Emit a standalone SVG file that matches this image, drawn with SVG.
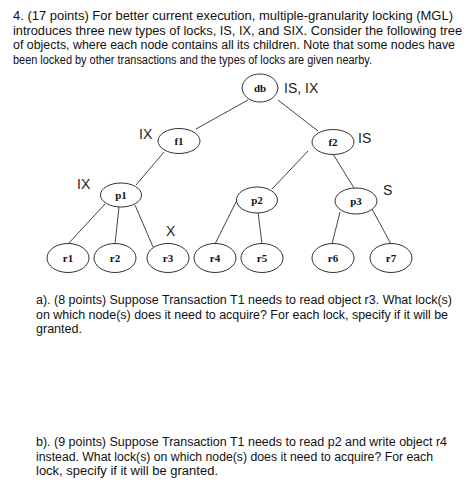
<svg xmlns="http://www.w3.org/2000/svg" width="474" height="501" viewBox="0 0 474 501">
<style>
.t{font-family:"Liberation Sans","DejaVu Sans",sans-serif;font-size:12.5px;fill:#111}
.lk{font-family:"Liberation Sans","DejaVu Sans",sans-serif;font-size:14px;fill:#222}
.n ellipse{fill:#fff;stroke:#333;stroke-width:1}
.n text{font-family:"Liberation Serif","DejaVu Serif",serif;font-weight:bold;font-size:11px;fill:#111;text-anchor:middle}
.e line{stroke:#444;stroke-width:1}
</style>
<rect width="474" height="501" fill="#fff"/>
<g id="intro">
<text class="t" x="13" y="20" textLength="440" lengthAdjust="spacingAndGlyphs">4. (17 points) For better current execution, multiple-granularity locking (MGL)</text>
<text class="t" x="13" y="34.5" textLength="449" lengthAdjust="spacingAndGlyphs">introduces three new types of locks, IS, IX, and SIX. Consider the following tree</text>
<text class="t" x="13" y="49" textLength="442" lengthAdjust="spacingAndGlyphs">of objects, where each node contains all its children. Note that some nodes have</text>
<text class="t" x="13" y="63.5" textLength="359" lengthAdjust="spacingAndGlyphs">been locked by other transactions and the types of locks are given nearby.</text>
</g>
<g id="connectors" class="e">
<line x1="248" y1="100" x2="196" y2="129"/>
<line x1="278" y1="100" x2="318" y2="131"/>
<line x1="164" y1="152" x2="136" y2="185"/>
<line x1="308" y1="151" x2="272" y2="189"/>
<line x1="333" y1="154" x2="354" y2="188"/>
<line x1="105" y1="204" x2="68" y2="244"/>
<line x1="119" y1="207" x2="115" y2="244"/>
<line x1="135" y1="205" x2="153" y2="247"/>
<line x1="237" y1="200" x2="215" y2="244"/>
<line x1="258" y1="212" x2="262" y2="244"/>
<line x1="340" y1="212" x2="332" y2="244"/>
<line x1="372" y1="209" x2="391" y2="244"/>
</g>
<g id="db" class="n"><ellipse cx="260" cy="88" rx="18" ry="14"/><text x="260" y="92">db</text></g>
<g id="f1" class="n"><ellipse cx="179" cy="141" rx="21" ry="12.5"/><text x="179" y="145">f1</text></g>
<g id="f2" class="n"><ellipse cx="333" cy="142" rx="21" ry="12.5"/><text x="333" y="146">f2</text></g>
<g id="p1" class="n"><ellipse cx="121" cy="195" rx="20.5" ry="12"/><text x="121" y="199">p1</text></g>
<g id="p2" class="n"><ellipse cx="257" cy="200" rx="20.5" ry="13"/><text x="257" y="204">p2</text></g>
<g id="p3" class="n"><ellipse cx="356" cy="201" rx="21" ry="13"/><text x="356" y="205">p3</text></g>
<g id="r1" class="n"><ellipse cx="68" cy="258" rx="21" ry="14.5"/><text x="68" y="262">r1</text></g>
<g id="r2" class="n"><ellipse cx="115" cy="258" rx="21" ry="14.5"/><text x="115" y="262">r2</text></g>
<g id="r3" class="n"><ellipse cx="168" cy="258" rx="21" ry="14.5"/><text x="168" y="262">r3</text></g>
<g id="r4" class="n"><ellipse cx="215" cy="258" rx="21" ry="14.5"/><text x="215" y="262">r4</text></g>
<g id="r5" class="n"><ellipse cx="262" cy="258" rx="21" ry="14.5"/><text x="262" y="262">r5</text></g>
<g id="r6" class="n"><ellipse cx="333" cy="258" rx="21" ry="14.5"/><text x="333" y="262">r6</text></g>
<g id="r7" class="n"><ellipse cx="391" cy="258" rx="21" ry="14.5"/><text x="391" y="262">r7</text></g>
<g id="locks">
<text class="lk" x="284" y="93">IS, IX</text>
<text class="lk" x="139" y="139">IX</text>
<text class="lk" x="358" y="143">IS</text>
<text class="lk" x="77" y="189">IX</text>
<text class="lk" x="383" y="195">S</text>
<text class="lk" x="166" y="236">X</text>
</g>
<g id="qa">
<text class="t" x="36" y="304" textLength="416" lengthAdjust="spacingAndGlyphs">a). (8 points) Suppose Transaction T1 needs to read object r3. What lock(s)</text>
<text class="t" x="36" y="318.5" textLength="412" lengthAdjust="spacingAndGlyphs">on which node(s) does it need to acquire? For each lock, specify if it will be</text>
<text class="t" x="36" y="333" textLength="46" lengthAdjust="spacingAndGlyphs">granted.</text>
</g>
<g id="qb">
<text class="t" x="36" y="446" textLength="411" lengthAdjust="spacingAndGlyphs">b). (9 points) Suppose Transaction T1 needs to read p2 and write object r4</text>
<text class="t" x="36" y="460.5" textLength="397" lengthAdjust="spacingAndGlyphs">instead. What lock(s) on which node(s) does it need to acquire? For each</text>
<text class="t" x="36" y="475" textLength="182" lengthAdjust="spacingAndGlyphs">lock, specify if it will be granted.</text>
</g>
</svg>
